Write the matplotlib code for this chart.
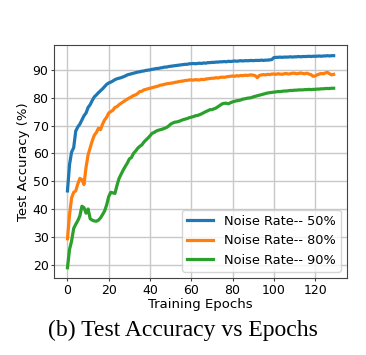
import matplotlib
matplotlib.use("Agg")
import matplotlib.pyplot as plt
import numpy as np

epochs = list(range(130))

blue_50 = [46.5, 56.0, 60.5, 62.0, 68.0, 69.5, 70.5, 72.0, 73.5, 74.5,
           76.5, 77.5, 79.0, 80.3, 81.0, 81.8, 82.5, 83.2, 84.0, 84.8,
           85.3, 85.6, 86.0, 86.5, 86.8, 87.0, 87.2, 87.5, 87.8, 88.2,
           88.4, 88.6, 88.8, 89.0, 89.2, 89.3, 89.5, 89.6, 89.8, 89.9,
           90.0, 90.2, 90.3, 90.5, 90.5, 90.7, 90.8, 91.0, 91.0, 91.2,
           91.3, 91.4, 91.5, 91.6, 91.7, 91.8, 91.9, 92.0, 92.0, 92.2,
           92.2, 92.3, 92.2, 92.3, 92.4, 92.3, 92.5, 92.4, 92.6, 92.6,
           92.7, 92.7, 92.8, 92.8, 92.9, 92.9, 93.0, 92.9, 93.1, 93.0,
           93.1, 93.2, 93.1, 93.2, 93.3, 93.2, 93.3, 93.3, 93.3, 93.4,
           93.3, 93.4, 93.4, 93.4, 93.5, 93.4, 93.5, 93.5, 93.6, 93.7,
           94.4, 94.5, 94.5, 94.6, 94.5, 94.6, 94.6, 94.6, 94.7, 94.6,
           94.7, 94.7, 94.8, 94.7, 94.8, 94.8, 94.8, 94.9, 94.8, 94.9,
           94.9, 94.9, 95.0, 94.9, 95.0, 95.0, 95.1, 95.0, 95.1, 95.1]

orange_80 = [29.3, 38.0, 44.0, 46.0, 46.5, 49.0, 51.0, 50.5, 48.8, 55.0,
             59.5, 62.0, 64.5, 66.5, 67.5, 69.0, 68.5, 70.5, 72.0, 73.0,
             74.5, 75.0, 75.5, 76.5, 76.8, 77.5, 78.0, 78.5, 79.0, 79.5,
             79.9, 80.3, 80.8, 81.0, 81.5, 82.2, 82.3, 82.8, 83.0, 83.2,
             83.4, 83.6, 83.8, 84.0, 84.2, 84.5, 84.6, 84.8, 85.0, 85.1,
             85.2, 85.3, 85.5, 85.6, 85.8, 85.9, 86.0, 86.2, 86.2, 86.4,
             86.4, 86.3, 86.5, 86.4, 86.4, 86.6, 86.5, 86.7, 86.8, 86.9,
             87.0, 87.0, 87.2, 87.1, 87.3, 87.4, 87.3, 87.5, 87.6, 87.7,
             87.8, 87.7, 87.9, 87.8, 88.0, 87.9, 88.1, 88.0, 88.1, 88.2,
             88.1, 87.9, 87.2, 88.0, 88.2, 88.3, 88.2, 88.4, 88.3, 88.5,
             88.5, 88.4, 88.6, 88.5, 88.4, 88.6, 88.7, 88.5, 88.6, 88.8,
             88.8, 88.6, 88.7, 88.9, 88.7, 88.6, 88.8, 88.5, 88.3, 87.7,
             87.8, 88.2, 88.5, 88.7, 88.6, 88.9, 89.1, 88.6, 88.2, 88.4]

green_90 = [18.9, 25.5, 28.5, 33.0, 34.5, 35.8, 37.5, 41.0, 40.5, 38.5,
            40.0, 36.5, 36.0, 35.7, 35.6, 36.0, 36.8, 38.0, 39.3, 41.5,
            44.5, 46.0, 45.8, 45.6, 48.5, 51.0, 52.5, 54.0, 55.3, 56.5,
            58.0, 58.5, 60.0, 60.8, 61.8, 62.5, 63.0, 64.0, 64.8, 65.5,
            66.3, 67.2, 67.5, 68.0, 68.3, 68.5, 68.7, 69.0, 69.3, 69.8,
            70.5, 70.9, 71.2, 71.3, 71.5, 71.8, 72.1, 72.3, 72.5, 72.8,
            73.0, 73.2, 73.5, 73.6, 73.9, 74.2, 74.6, 75.0, 75.3, 75.7,
            75.7, 76.0, 76.3, 76.8, 77.3, 77.8, 78.0, 78.0, 77.8, 78.2,
            78.5, 78.7, 78.9, 79.0, 79.2, 79.5, 79.6, 79.8, 79.9, 80.0,
            80.3, 80.5, 80.7, 80.9, 81.1, 81.3, 81.5, 81.7, 81.8, 81.9,
            82.0, 82.1, 82.2, 82.2, 82.3, 82.4, 82.4, 82.5, 82.6, 82.6,
            82.7, 82.7, 82.8, 82.8, 82.8, 82.9, 82.9, 83.0, 82.9, 83.0,
            83.0, 83.1, 83.1, 83.2, 83.2, 83.3, 83.3, 83.3, 83.4, 83.4]

labels = ["Noise Rate-- 50%", "Noise Rate-- 80%", "Noise Rate-- 90%"]
colors = ["#1f77b4", "#ff7f0e", "#2ca02c"]

fig = plt.figure(figsize=(3.66, 3.55), dpi=100)
ax = fig.add_axes([0.148, 0.216, 0.800, 0.657])
for ys, lab, c in zip([blue_50, orange_80, green_90], labels, colors):
    ax.plot(epochs, ys, color=c, lw=2.3, label=lab)

ax.set_xticks([0, 20, 40, 60, 80, 100, 120])
ax.set_yticks([20, 30, 40, 50, 60, 70, 80, 90])
ax.grid(True, color="#c8c8c8", lw=1.0)
ax.set_axisbelow(True)
ax.tick_params(labelsize=9, length=2.5, pad=1.5, color="#444444")
for s in ax.spines.values():
    s.set_color("#444444")
ax.set_xlabel("Training Epochs", fontsize=9.5, labelpad=1)
ax.set_ylabel("Test Accuracy (%)", fontsize=9.5, labelpad=2)
ax.legend(loc="lower right", fontsize=9.3, framealpha=0.8)

fig.text(0.5, 0.068, "(b) Test Accuracy vs Epochs", family="Liberation Serif",
         fontsize=17, ha="center", va="center")
fig.savefig("out.png", dpi=100)
